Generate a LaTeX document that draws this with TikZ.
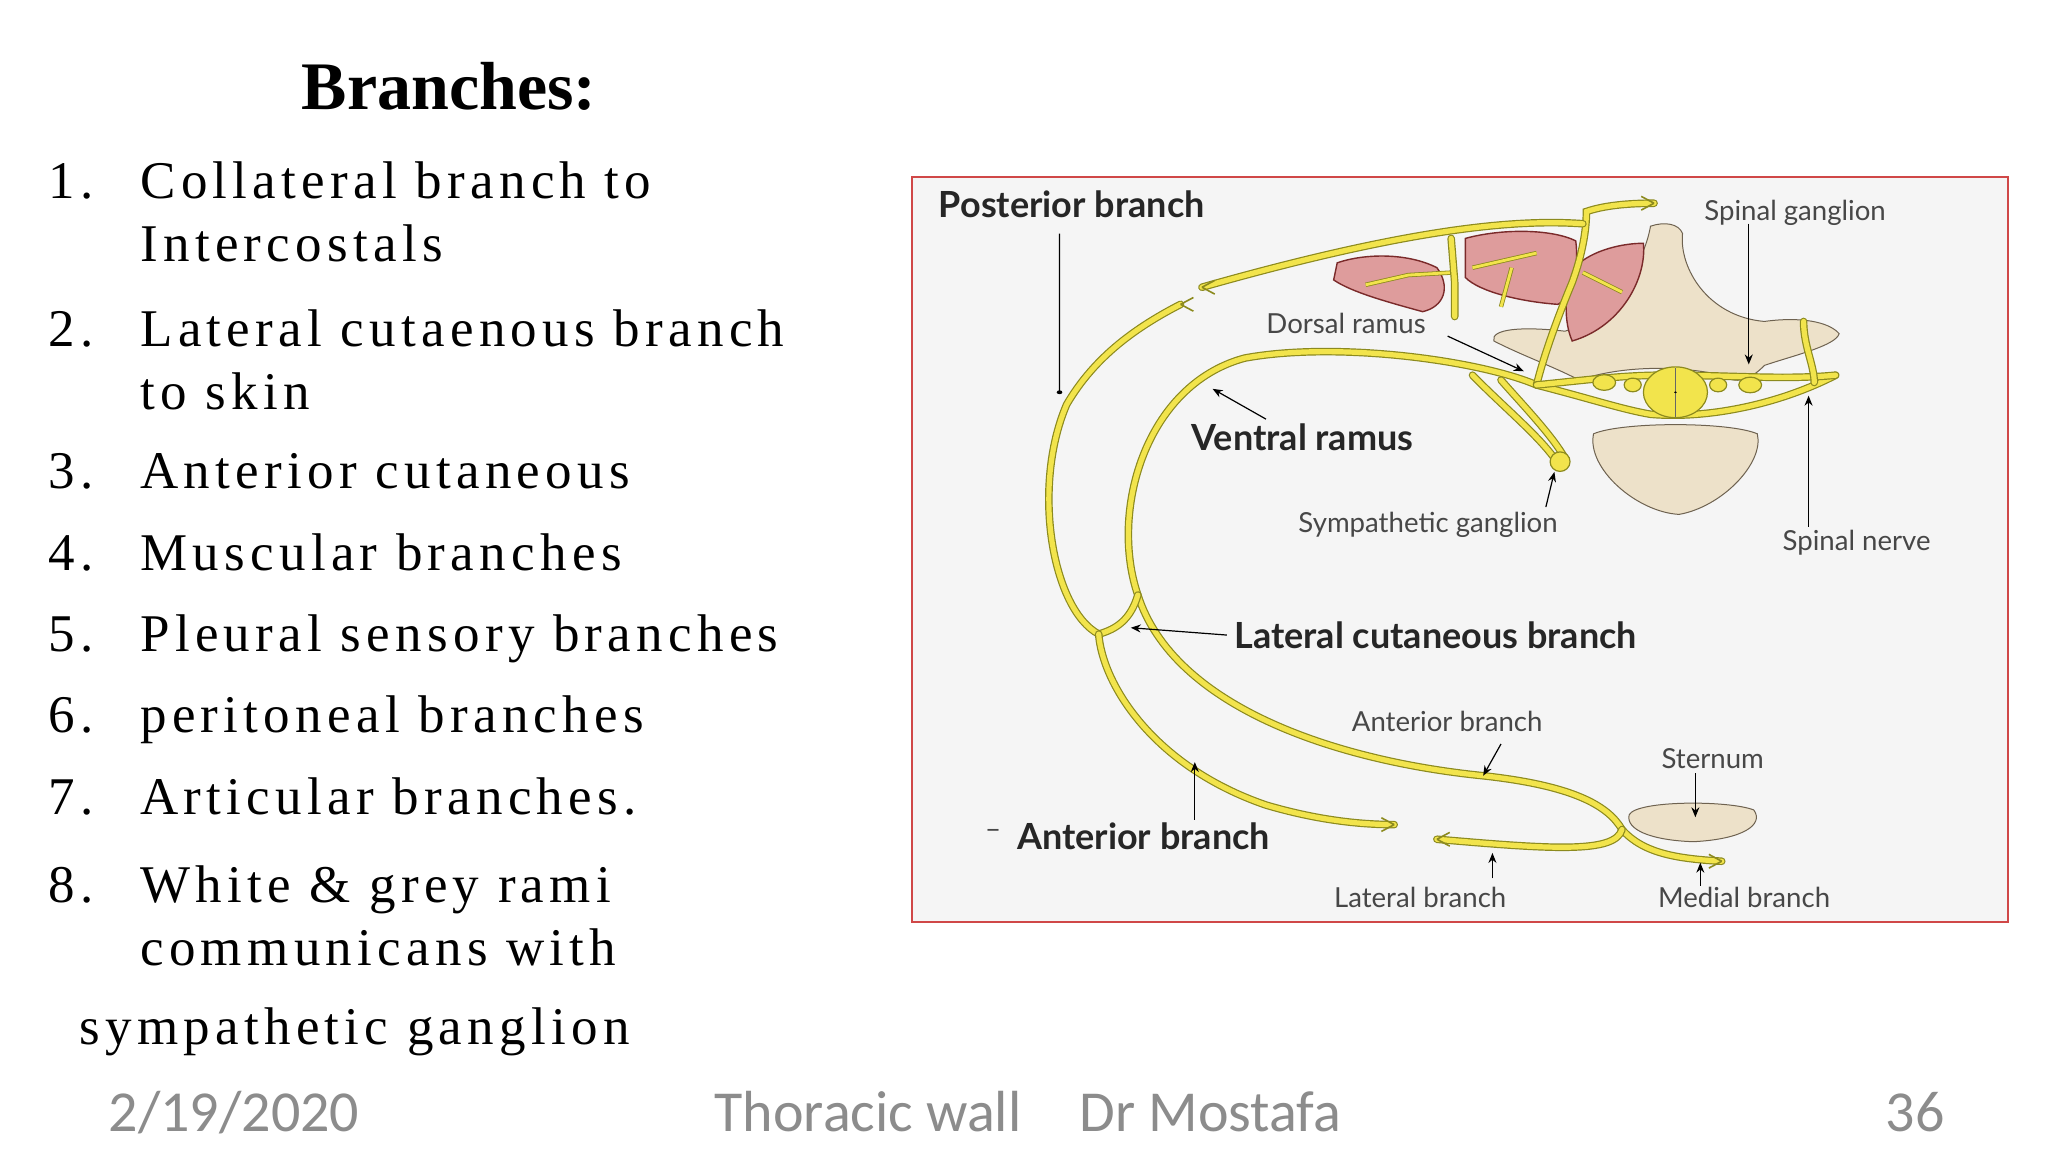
\documentclass[tikz,border=0pt]{standalone}
\usepackage{fontspec}
\setmainfont{Liberation Serif}
\newfontfamily\listfont[LetterSpace=10]{Liberation Serif}
\newfontfamily\labfont{Lato}
\newfontfamily\footfont{Carlito}
\usetikzlibrary{arrows.meta}
\definecolor{nerveyel}{HTML}{F2E44C}
\definecolor{nervedark}{HTML}{8C8A1E}
\definecolor{bone}{HTML}{EDE1C9}
\definecolor{bonedark}{HTML}{6E6250}
\definecolor{muscle}{HTML}{DE9C9C}
\definecolor{muscledark}{HTML}{7A2A2A}
\definecolor{boxred}{HTML}{D04848}
\definecolor{footgray}{HTML}{8C8C8C}
\tikzset{
 li/.style={font=\listfont\fontsize{26.5}{30}\selectfont, anchor=base west, inner sep=0},
 nerve/.style={draw=nerveyel,line width=2.6pt,line cap=round,preaction={draw=nervedark,line width=3.8pt,line cap=round}},
 thinnerve/.style={draw=nerveyel,line width=1.4pt,preaction={draw=nervedark,line width=2.2pt}},
 ptr/.style={draw=black,line width=0.6pt,-{Stealth[length=5pt,width=4pt]}},
 lbl/.style={font=\labfont\fontsize{13.8}{15}\selectfont,text=black!72,inner sep=0,anchor=west},
 blbl/.style={font=\labfont\bfseries\fontsize{18}{20}\selectfont,text=black!85,inner sep=0,anchor=west},
 foot/.style={font=\footfont\fontsize{29}{32}\selectfont,text=footgray,anchor=base,inner sep=0},
}
\begin{document}
\begin{tikzpicture}[x=0.5pt,y=-0.5pt]
\useasboundingbox (0,0) rectangle (2048,1153);
\fill[white] (0,0) rectangle (2048,1153);
% left text
\node[font=\bfseries\fontsize{34}{38}\selectfont,anchor=base,inner sep=0] (title) at (449,109) {Branches:};
\node[li] (n1) at (48,198) {1.};
\node[li] (t1) at (140,198) {Collateral branch to};
\node[li] (t1b) at (140,261) {Intercostals};
\node[li] (n2) at (48,346) {2.};
\node[li] (t2) at (140,346) {Lateral cutaenous branch};
\node[li] (t2b) at (140,409) {to skin};
\node[li] (n3) at (48,488) {3.};
\node[li] (t3) at (140,488) {Anterior cutaneous};
\node[li] (n4) at (48,570) {4.};
\node[li] (t4) at (140,570) {Muscular branches};
\node[li] (n5) at (48,651) {5.};
\node[li] (t5) at (140,651) {Pleural sensory branches};
\node[li] (n6) at (48,732) {6.};
\node[li] (t6) at (140,732) {peritoneal branches};
\node[li] (n7) at (48,814) {7.};
\node[li] (t7) at (140,814) {Articular branches.};
\node[li] (n8) at (48,902) {8.};
\node[li] (t8) at (140,902) {White \& grey rami};
\node[li] (t8b) at (140,965) {communicans with};
\node[li] (t8c) at (79,1044) {sympathetic ganglion};
% footer
\node[foot] (date) at (234,1131) {2/19/2020};
\node[foot] (ftitle) at (1028,1131) {Thoracic wall\quad Dr Mostafa};
\node[foot,anchor=base east] (page) at (1945,1131) {36};
% diagram box
\draw[boxred,line width=1pt,fill=black!4] (912,177) rectangle (2008,922);
\begin{scope}[shift={(910,170)},xscale=0.712,yscale=0.4885]
% bones
\draw[bonedark,fill=bone,line width=0.5pt] (960,540) .. controls (1000,515) and (1150,515) .. (1190,540) .. controls (1200,600) and (1140,690) .. (1080,705) .. controls (1020,700) and (950,610) .. (960,540) -- cycle;
\draw[bonedark,fill=bone,line width=0.5pt] (1040,115) .. controls (1060,105) and (1080,110) .. (1085,130) .. controls (1080,200) and (1120,300) .. (1200,310) .. controls (1250,300) and (1290,310) .. (1305,335) .. controls (1300,360) and (1240,380) .. (1200,400) .. controls (1180,430) and (1160,440) .. (1140,420) .. controls (1080,400) and (1000,400) .. (940,430) .. controls (900,400) and (860,380) .. (820,350) .. controls (815,325) and (860,320) .. (920,330) .. controls (980,300) and (1030,200) .. (1040,115) -- cycle;
% muscles
\draw[muscledark,fill=muscle,line width=0.7pt] (600,190) .. controls (640,170) and (700,170) .. (740,200) .. controls (760,240) and (750,280) .. (720,290) .. controls (670,270) and (620,250) .. (595,225) -- cycle;
\draw[muscledark,fill=muscle,line width=0.7pt] (780,140) .. controls (830,120) and (900,120) .. (935,145) .. controls (940,200) and (930,260) .. (910,275) .. controls (860,270) and (800,250) .. (780,220) -- cycle;
\draw[muscledark,fill=muscle,line width=0.7pt] (1030,150) .. controls (1035,220) and (1000,320) .. (930,350) .. controls (915,300) and (920,220) .. (945,185) .. controls (970,160) and (1005,150) .. (1030,150) -- cycle;
% thin muscle branches
\draw[thinnerve] (760,210) -- (700,215) -- (640,235);
\draw[thinnerve] (765,220) -- (760,140);
\draw[thinnerve] (790,200) -- (880,170);
\draw[thinnerve] (845,200) -- (830,280);
\draw[thinnerve] (945,210) -- (1000,250);
% nerves
\draw[nerve] (880,440) .. controls (800,390) and (600,350) .. (470,385) .. controls (330,440) and (280,700) .. (320,870) .. controls (370,1100) and (600,1210) .. (805,1240) .. controls (930,1260) and (980,1300) .. (1000,1350) .. controls (1030,1400) and (1080,1410) .. (1140,1415);
\draw[nerve] (1000,1350) .. controls (990,1400) and (900,1390) .. (740,1370);
\draw[nerve] (320,870) .. controls (310,920) and (290,940) .. (265,950) .. controls (200,900) and (170,650) .. (220,480) .. controls (260,380) and (320,320) .. (380,275);
\draw[nerve] (265,950) .. controls (270,1050) and (340,1220) .. (500,1300) .. controls (570,1330) and (630,1340) .. (680,1340);
\draw[nerve] (880,440) .. controls (890,380) and (910,300) .. (930,230) .. controls (945,170) and (950,120) .. (950,85) .. controls (980,70) and (1020,68) .. (1045,68);
\draw[nerve] (945,110) .. controls (850,100) and (700,120) .. (410,240);
\draw[nerve] (765,300) -- (765,230) -- (760,140);
\draw[nerve] (880,440) .. controls (960,470) and (1000,490) .. (1040,500) .. controls (1120,510) and (1220,480) .. (1300,420);
\draw[nerve] (880,440) .. controls (950,430) and (1000,420) .. (1060,420) .. controls (1150,420) and (1230,430) .. (1300,420);
\draw[nerve] (1255,310) .. controls (1255,360) and (1270,400) .. (1270,435);
\draw[nerve] (790,420) .. controls (830,480) and (880,540) .. (905,590);
\draw[nerve] (830,430) .. controls (860,480) and (900,540) .. (920,590);
% forks
\foreach \x/\y/\d in {380/275/1,410/240/1,1045/68/-1,680/1340/-1,740/1370/1,1140/1415/-1}{
  \draw[nervedark,line width=0.8pt] (\x,\y) -- ++(\d*18,-14) (\x,\y) -- ++(\d*18,14);}
% ganglia
\draw[nervedark,fill=nerveyel,line width=0.6pt] (1075,455) ellipse (45 and 52);
\draw[black!60,line width=0.5pt] (1075,405) -- (1075,505);
\fill[black] (1075,455) circle (2);
\draw[nervedark,fill=nerveyel,line width=0.6pt] (975,435) ellipse (16 and 16);
\draw[nervedark,fill=nerveyel,line width=0.6pt] (1015,440) ellipse (12 and 14);
\draw[nervedark,fill=nerveyel,line width=0.6pt] (1135,440) ellipse (12 and 14);
\draw[nervedark,fill=nerveyel,line width=0.6pt] (1180,440) ellipse (16 and 16);
\draw[nervedark,fill=nerveyel,line width=0.6pt] (913,597) ellipse (14 and 20);
% sternum
\draw[bonedark,fill=bone,line width=0.5pt] (1010,1320) .. controls (1020,1290) and (1150,1290) .. (1185,1310) .. controls (1200,1340) and (1170,1370) .. (1100,1375) .. controls (1040,1372) and (1005,1350) .. (1010,1320) -- cycle;
% labels
\node[blbl] (pb) at (40,70) {Posterior branch};
\node[lbl] (sg) at (1115,88) {Spinal ganglion};
\node[lbl] (dr) at (500,315) {Dorsal ramus};
\node[blbl] (vr) at (395,548) {Ventral ramus};
\node[lbl] (sym) at (545,727) {Sympathetic ganglion};
\node[lbl] (sn) at (1225,763) {Spinal nerve};
\node[blbl] (lcb) at (455,952) {Lateral cutaneous branch};
\node[lbl] (ab) at (620,1128) {Anterior branch};
\node[lbl] (st) at (1055,1205) {Sternum};
\node[blbl] (ab2) at (150,1363) {Anterior branch};
\node[lbl] (lb) at (595,1490) {Lateral branch};
\node[lbl] (mb) at (1050,1490) {Medial branch};
\node[lbl] (dash) at (105,1360) {\textendash};
% pointers
\coordinate (p1) at (210,455);
\draw[line width=0.6pt] (210,130) -- (p1); \fill (p1) circle (4);
\draw[ptr] (1178,110) -- (1178,398);
\draw[ptr] (755,340) -- (862,412);
\draw[ptr] (500,510) -- (425,448);
\draw[ptr] (893,690) -- (905,618);
\draw[ptr] (1262,730) -- (1262,462);
\draw[ptr] (445,952) -- (310,937);
\draw[ptr] (830,1175) -- (805,1240);
\draw[ptr] (1103,1235) -- (1103,1325);
\draw[ptr] (400,1330) -- (400,1212);
\draw[ptr] (818,1450) -- (818,1398);
\draw[ptr] (1110,1465) -- (1110,1418);
\end{scope}
\end{tikzpicture}
\end{document}
